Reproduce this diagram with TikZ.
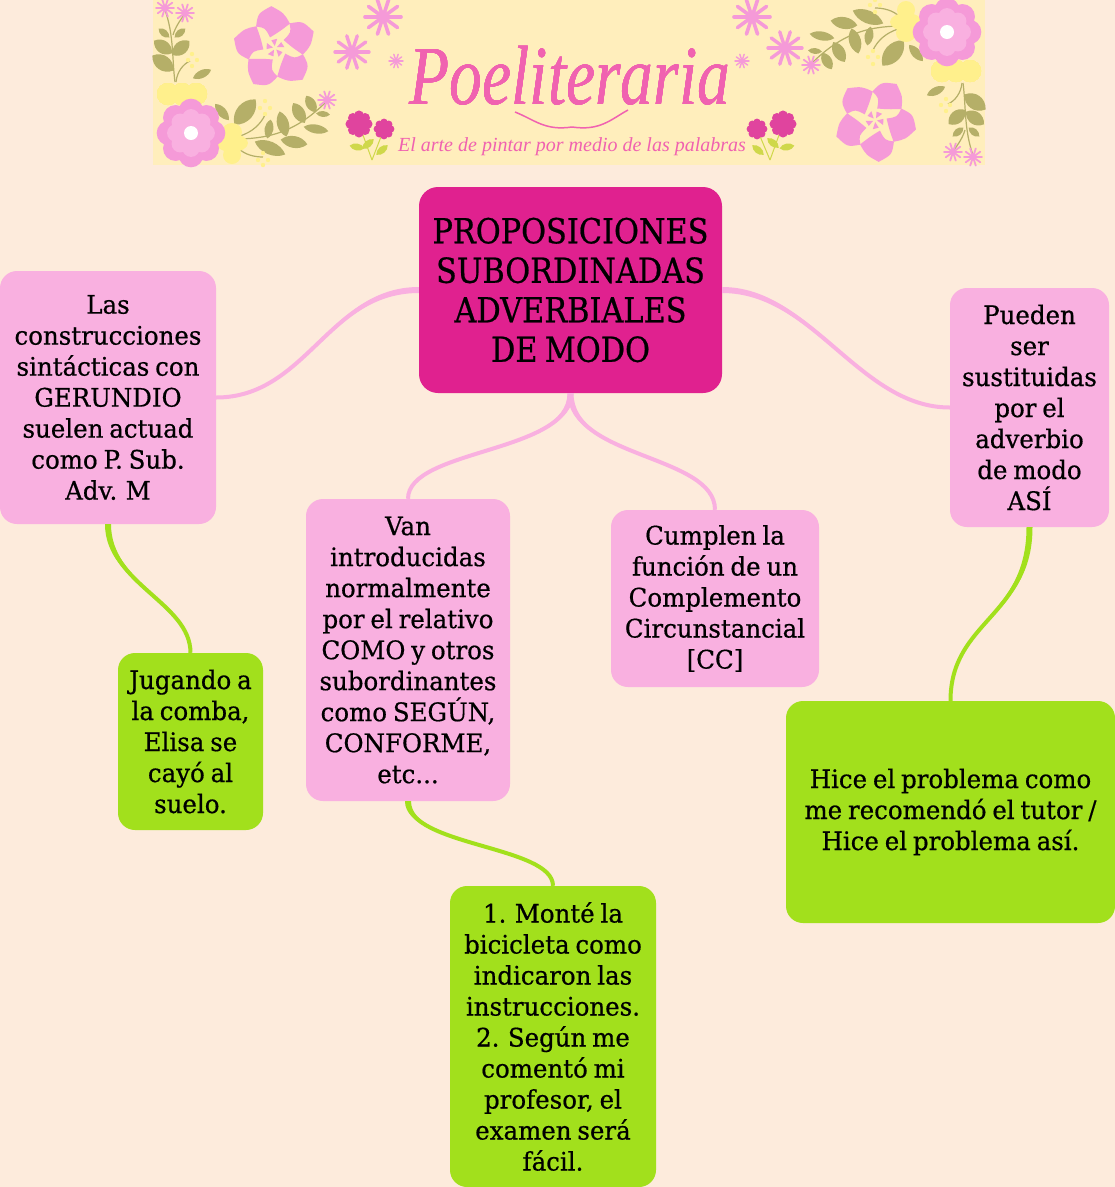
\documentclass[tikz,border=0pt]{standalone}
\usepackage{fontspec}
\setmainfont{DejaVu Serif}[FakeStretch=0.96,FakeBold=0.6,WordSpace=0.75]
\newfontfamily\headfont{DejaVu Serif}[FakeStretch=0.88,FakeBold=0.6,WordSpace=0.75]
\newfontfamily\bannerfont{Liberation Serif}[FakeStretch=0.78]
\newfontfamily\tagfont{Liberation Serif}
\usetikzlibrary{calc}
\definecolor{pagebg}{HTML}{FDEBDC}
\definecolor{bannerbg}{HTML}{FFEEBC}
\definecolor{mainpink}{HTML}{E0218F}
\definecolor{softpink}{HTML}{F9B0E0}
\definecolor{leafgreen}{HTML}{A2E01C}
\definecolor{olive}{HTML}{B5AF68}
\definecolor{lime}{HTML}{CFD84A}
\definecolor{petal}{HTML}{F59AD8}
\definecolor{titlepink}{HTML}{F062B0}
\definecolor{deeppink}{HTML}{E0449E}
\definecolor{paleyellow}{HTML}{FFF08C}
\tikzset{every node/.style={inner sep=0pt, align=center, text=black},
  box/.style={rounded corners=17pt, font=\fontsize{25.5}{31}\selectfont},
  pinkbox/.style={box, fill=softpink},
  greenbox/.style={box, fill=leafgreen},
  pinkline/.style={softpink},
  greenline/.style={leafgreen}}
% #1 style, #2 from, #3 to, #4 and #5 controls, #6 half width at the start
\newcommand{\branch}[6]{
  \draw[#1, line width=4pt] (#2) .. controls +(#4) and +(#5) .. (#3);
  \fill[#1] ($(#2)+(#6)$) .. controls +(#4) and +(#5) .. (#3)
    .. controls +(#5) and +(#4) .. ($(#2)-(#6)$) -- cycle;
}
\newcommand{\leaf}[6][olive]{
  \fill[#1, shift={(#2,#3)}, rotate=#4] ({-#5/2},0)
    .. controls ({-#5/4},{-#6*0.66}) and ({#5/4},{-#6*0.66}) .. ({#5/2},0)
    .. controls ({#5/4},{#6*0.66}) and ({-#5/4},{#6*0.66}) .. cycle;
}
\newcommand{\spark}[4]{
  \foreach \a in {0,36,...,324} \draw[#4, line width={#3/5}, line cap=round] (#1,#2) -- +(\a:#3);
}
\newcommand{\lobed}[4]{
  \foreach \a in {0,45,...,315} \fill[#4] (#1,#2) ++(\a:{#3*0.66}) circle ({#3*0.38});
  \fill[#4] (#1,#2) circle ({#3*0.75});
}
\newcommand{\pinwheel}[3]{
  \begin{scope}[shift={(#1,#2)}, rotate=#3]
   \foreach \a in {0,72,...,288} {
     \fill[petal, rotate=\a] (42,0) .. controls (36,-14) .. (23,-17) .. controls (21,-8) .. (11,-4)
       .. controls (16,6) .. (23,17) .. controls (34,12) .. (42,0);
     \fill[petal, rotate=\a] (2,0) -- (8,-3) -- (9,3) -- cycle;
   }
  \end{scope}
}
\newcommand{\corner}{
  % stems
  \draw[olive, line width=1.2pt] (175,82) .. controls (172,60) and (174,35) .. (165,10);
  \draw[olive, line width=1.2pt] (173,35) .. controls (175,28) and (180,20) .. (185,14);
  \draw[olive, line width=1.2pt] (176,82) .. controls (177,72) and (183,64) .. (190,61);
  \draw[olive, line width=1.2pt] (240,139) .. controls (270,138) and (295,132) .. (325,103);
  \draw[olive, line width=1.2pt] (240,136) .. controls (252,132) and (260,125) .. (265,115);
  \draw[olive, line width=1.2pt] (238,148) .. controls (245,155) and (255,157) .. (263,157);
  % leaves
  \foreach \lx/\ly/\la/\ll/\lw in {164/33/-40/14/7, 180/33/40/14/7, 163/47/-35/22/13, 181/48/40/22/13,
    163/63/-35/26/15, 202/74/25/20/8, 222/112/-50/21/9, 245/112/50/33/17, 269/129/80/19/9,
    283/124/105/26/12, 299/113/120/23/12, 311/104/120/19/10, 316/129/-10/25/9, 323/114/-5/14/6,
    294/142/-10/27/12, 270/148/-23/33/13}
    \leaf{\lx}{\ly}{\la}{\ll}{\lw}
  % yellow flowers and dots
  \foreach \yx in {168,182,196} \fill[paleyellow] (\yx,94) circle (11);
  \foreach \yy/\yw in {132/10,143/16,155/9} \fill[paleyellow] (232,\yy) ellipse [x radius=\yw, y radius=9];
  \foreach \dx/\dy in {192/54,197/60,188/60,192/66,265/101,260/108,270/108,265/114,263/153,258/160,268/160,263/165}
    \fill[paleyellow] (\dx,\dy) circle (2.2);
  % small pink sprays
  \spark{165}{8}{9}{petal}
  \spark{185}{13}{9}{petal}
  \spark{327}{100}{9}{petal}
  % round flower
  \lobed{191}{133}{33}{petal}
  \lobed{191}{133}{23}{softpink}
  \fill[white] (191,133) circle (7);
}

\begin{document}
\begin{tikzpicture}[x=1pt,y=-1pt]
  \useasboundingbox (0,0) rectangle (1115,1187);
  \fill[pagebg] (0,0) rectangle (1115,1187);
  % banner
  \fill[bannerbg] (153,0) rectangle (985,165);
  \corner
  \begin{scope}[rotate around={180:(569,82.5)}]
   \corner
  \end{scope}
  \pinwheel{275}{48}{95}
  \pinwheel{875}{120}{-85}
  \spark{383}{17}{18}{petal}
  \spark{352}{52}{17}{petal}
  \spark{396}{61}{7}{petal}
  \spark{752}{17}{18}{petal}
  \spark{785}{48}{17}{petal}
  \spark{742}{61}{7}{petal}
  \foreach \fx/\sx/\fy/\fr in {359/372/124/13, 384/372/129/10, 783/770/124/13, 757/770/129/10} {
    \draw[lime, line width=1pt] (\fx,\fy) -- (\sx,160);
    \lobed{\fx}{\fy}{\fr}{deeppink}
  }
  \foreach \lx/\ly/\la in {357/147/-10, 368/144/40, 382/150/40, 758/150/-40, 773/143/-40, 787/147/10}
    \leaf[lime]{\lx}{\ly}{\la}{15}{7}
  \node[font=\bannerfont\itshape\fontsize{84}{84}\selectfont, text=titlepink] (title) at (570,76) {Poeliteraria};
  \node[font=\tagfont\itshape\fontsize{20}{20}\selectfont, text=titlepink] (tagline) at (572,147) {El arte de pintar por medio de las palabras};
  \draw[titlepink, line width=1.5pt] (515,112) .. controls (535,120) and (545,131) .. (572,127)
    .. controls (600,131) and (610,120) .. (628,110);
  % nodes
  \node[box, fill=mainpink, minimum width=303pt, minimum height=206pt, rounded corners=19pt,
    font=\headfont\fontsize{34.5}{39.5}\selectfont] (main) at (570.5,290) {PROPOSICIONES\\SUBORDINADAS\\ADVERBIALES\\DE MODO};
  \node[pinkbox, minimum width=216pt, minimum height=253pt] (a) at (108,397.5)
    {Las\\construcciones\\sintácticas con\\GERUNDIO\\suelen actuad\\como P. Sub.\\Adv. M};
  \node[pinkbox, minimum width=204pt, minimum height=302pt] (b) at (408,650)
    {Van\\introducidas\\normalmente\\por el relativo\\COMO y otros\\subordinantes\\como SEGÚN,\\CONFORME,\\etc...};
  \node[pinkbox, minimum width=208pt, minimum height=177pt] (c) at (715,598.5)
    {Cumplen la\\función de un\\Complemento\\Circunstancial\\{[CC]}};
  \node[pinkbox, minimum width=159pt, minimum height=239pt] (d) at (1029.5,407.5)
    {Pueden\\ser\\sustituidas\\por el\\adverbio\\de modo\\ASÍ};
  \node[greenbox, minimum width=145pt, minimum height=177pt] (ea) at (190.5,741.5)
    {Jugando a\\la comba,\\Elisa se\\cayó al\\suelo.};
  \node[greenbox, minimum width=206pt, minimum height=301pt] (eb) at (553,1036.5)
    {1. Monté la\\bicicleta como\\indicaron las\\instrucciones.\\2. Según me\\comentó mi\\profesor, el\\examen será\\fácil.};
  \node[greenbox, minimum width=329pt, minimum height=222pt] (ed) at (950.5,812)
    {Hice el problema como\\me recomendó el tutor /\\Hice el problema así.};
  % connectors
  \branch{pinkline}{main.west}{a.east}{-90,0}{90,0}{0,3}
  \branch{pinkline}{main.east}{d.west}{90,0}{-90,0}{0,3}
  \branch{pinkline}{main.south}{b.north}{0,60}{0,-50}{3,0}
  \branch{pinkline}{main.south}{c.north}{0,65}{0,-55}{3,0}
  \branch{greenline}{a.south}{ea.north}{0,60}{0,-50}{3,0}
  \branch{greenline}{b.south}{eb.north}{0,45}{0,-40}{3,0}
  \branch{greenline}{d.south}{ed.north}{0,90}{0,-80}{3,0}
\end{tikzpicture}
\end{document}
